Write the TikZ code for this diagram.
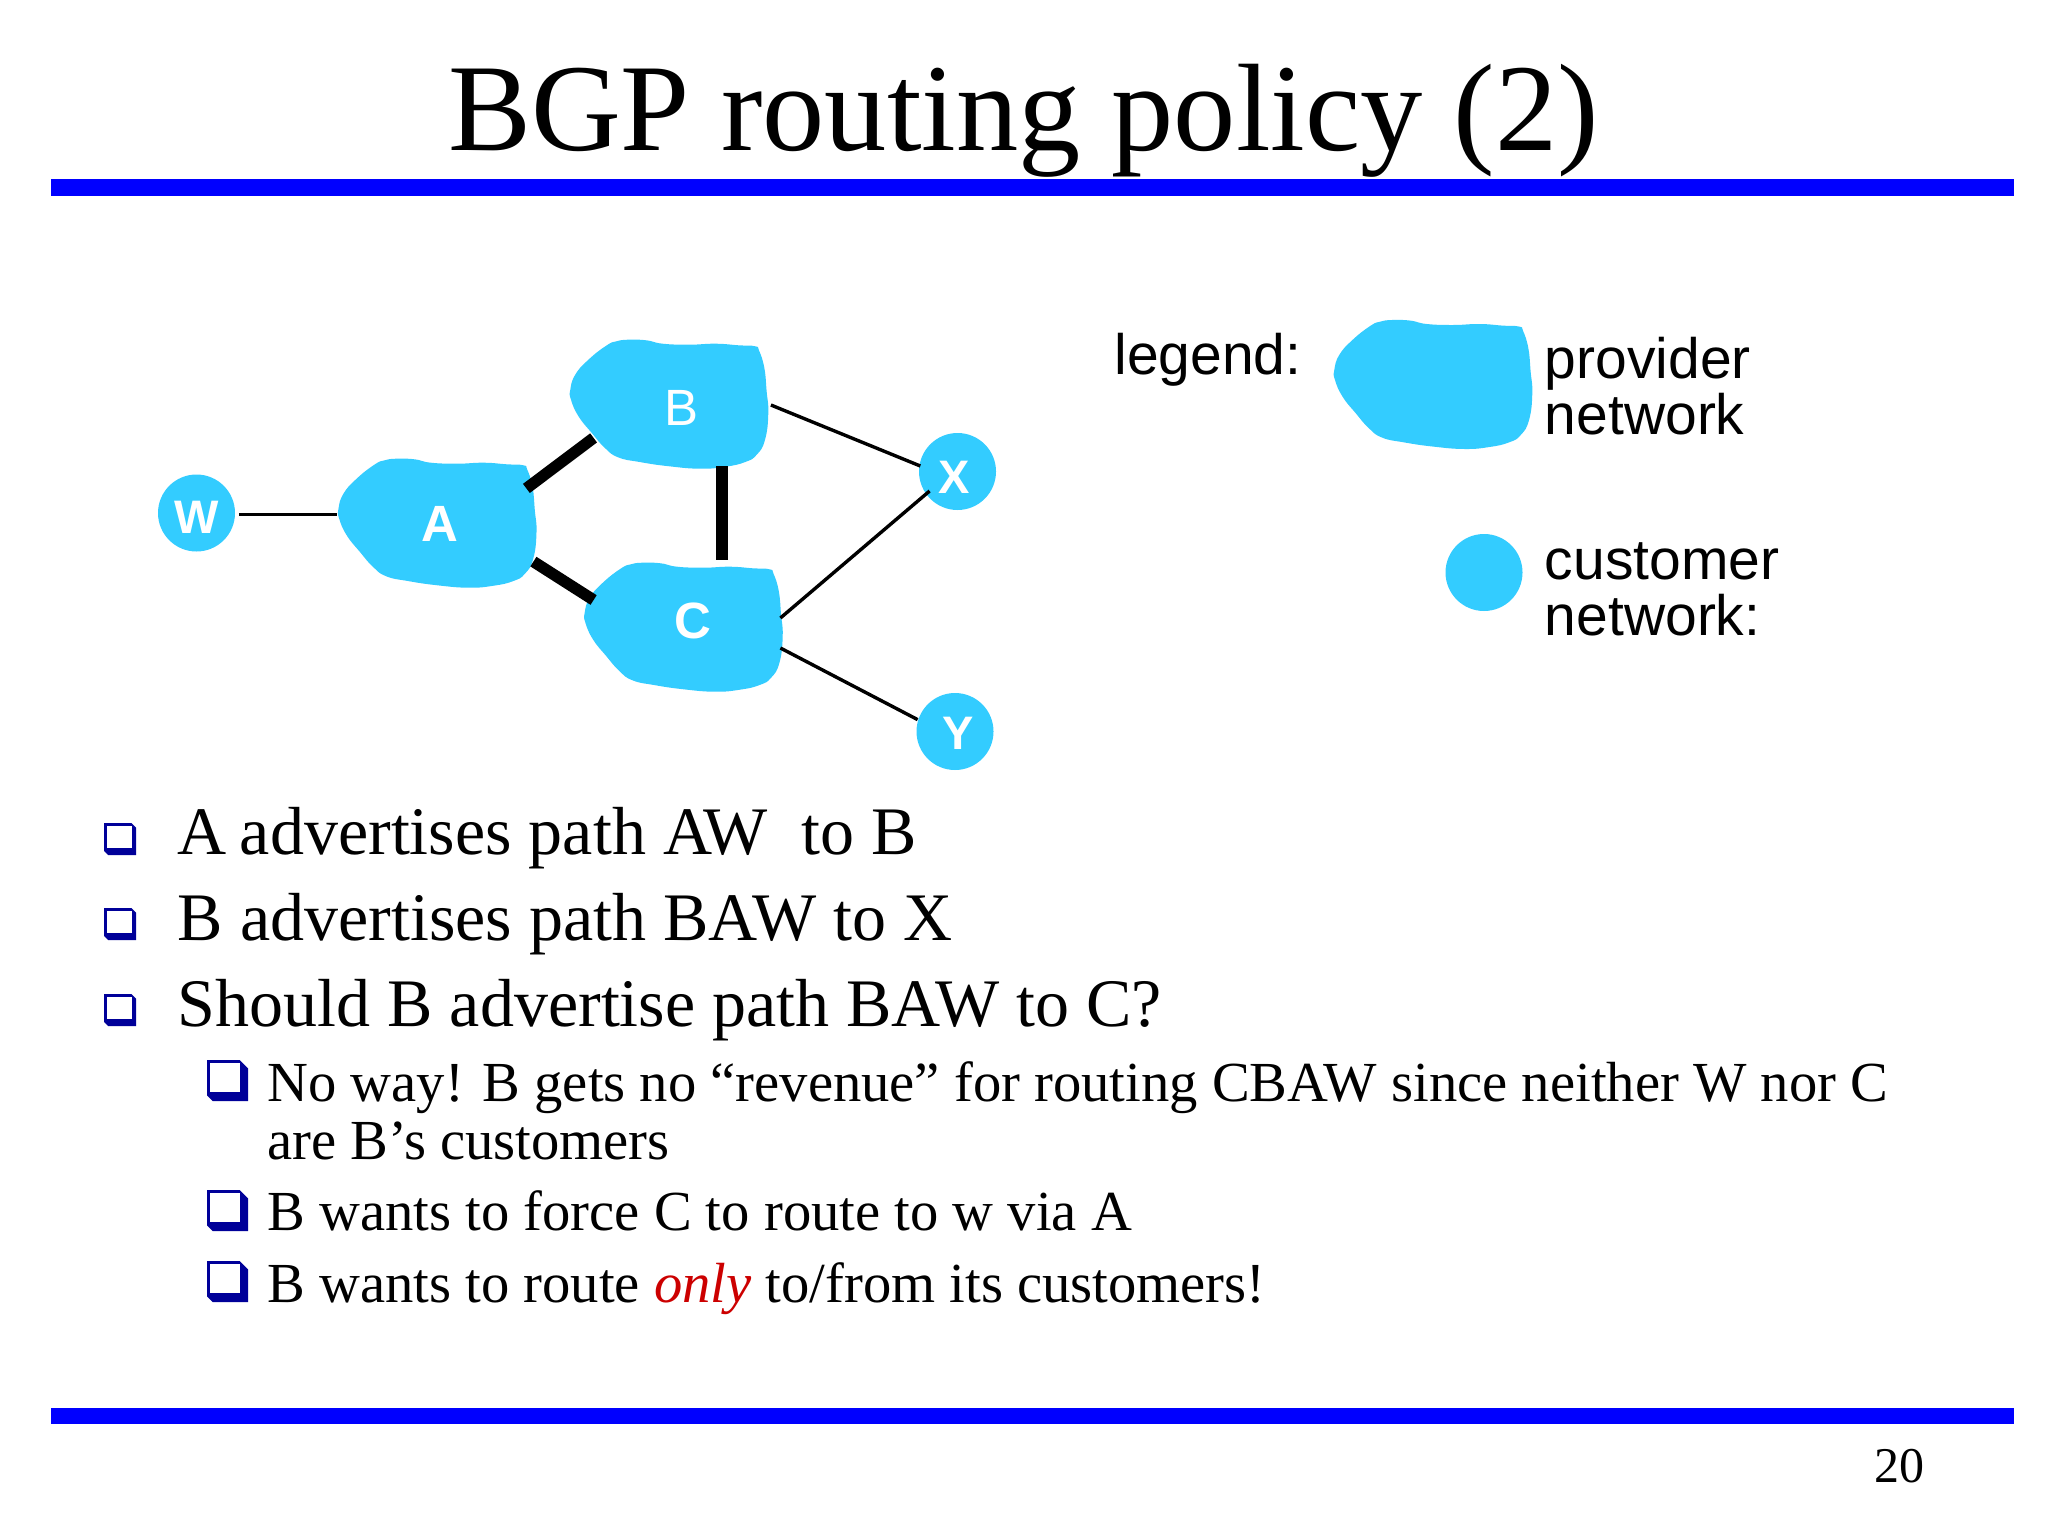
\documentclass[tikz,border=0pt]{standalone}
\usepackage{fontspec}
\setmainfont{Liberation Serif}
\newfontfamily\helv{Liberation Sans}
\usetikzlibrary{calc}
\definecolor{netblue}{RGB}{51,204,255}
\definecolor{barblue}{RGB}{0,0,255}
\definecolor{navy}{RGB}{0,0,153}
\definecolor{onlyred}{RGB}{204,0,0}
\tikzset{
  px/.style={x=0.5pt,y=-0.5pt},
  blob/.style={minimum width=100.5pt,minimum height=65pt,inner sep=0pt,text=white},
  cust/.style={circle,fill=netblue,minimum size=38.5pt,inner sep=0pt,text=white},
  lab/.style={font=\helv\fontsize{25.5}{25.5}\selectfont},
  labb/.style={font=\helv\bfseries\fontsize{25.5}{25.5}\selectfont},
  clab/.style={font=\helv\bfseries\fontsize{23.5}{23.5}\selectfont},
  thinlink/.style={line width=1.7pt,black},
  heavylink/.style={line width=5.7pt,black},
  legendtext/.style={anchor=base west,inner sep=0pt,font=\helv\fontsize{28.5}{28.5}\selectfont},
  title/.style={anchor=base,inner sep=0pt,font=\fontsize{62.2}{62.2}\selectfont},
  lone/.style={anchor=base west,inner sep=0pt,font=\fontsize{34}{34}\selectfont},
  ltwo/.style={anchor=base west,inner sep=0pt,font=\fontsize{28.3}{28.3}\selectfont},
  pageno/.style={anchor=base east,inner sep=0pt,font=\fontsize{25}{25}\selectfont},
  bar/.style={fill=barblue},
}
% blob outline, centred at the given point
\newcommand{\blobshape}[2]{%
  \fill[netblue,shift={(#1,#2)},xscale=0.99] plot[smooth cycle,tension=0.8] coordinates {
    (-41.7,-64.3) (-23.3,-63.7) (-6.7,-60.3) (20,-59.3) (46.7,-60.3) (70,-58.7)
    (86.7,-57.7) (90.7,-53.3) (96,-36) (98.3,-12.7) (100,9) (96.7,35.7)
    (88.3,50.7) (76.7,58) (56.7,62.7) (31.7,64.7) (0,62.3) (-30,58)
    (-51.7,53.3) (-65,44) (-78.3,29) (-91.7,12.3) (-99.3,-4.3) (-100,-14.3)
    (-95,-29.3) (-81.7,-44.3) (-63.3,-58.6) (-53.3,-62.7)};}
% shadowed square bullet: x, y (top left), size, right border, bottom border
\newcommand{\sqbul}[5]{%
  \fill[navy,shift={(#1,#2)}] (0,0) -- (#3-#4,0) -- (#3,#4) -- (#3,#3) -- (#5*0.6,#3) -- (0,#3-#5*0.6) -- cycle;
  \fill[white,shift={(#1,#2)}] (2.7,2.7) -- (#3-#4,2.7) -- (#3-#4,#3-#5) -- (2.7,#3-#5) -- cycle;}
\begin{document}
\begin{tikzpicture}[px]
\useasboundingbox (0,0) rectangle (2048,1536);
\fill[white] (0,0) rectangle (2048,1536);
% title and rules
\node[title] (title) at (1023.5,150) {BGP routing policy (2)};
\fill[bar] (51,179) rectangle (2014,196);
\fill[bar] (51,1408) rectangle (2014,1424);
\node[pageno] (page) at (1925,1482) {20};
% network
\node[cust] (W) at (196.5,513) {};
\node[cust] (X) at (957.5,471.5) {};
\node[cust] (Y) at (955,731.5) {};
\blobshape{437.5}{523}
\blobshape{669.3}{404}
\blobshape{683.7}{627}
\node[blob] (A) at (437.5,523) {};
\node[blob] (B) at (669.3,404) {};
\node[blob] (C) at (683.7,627) {};
\node[labb,text=white] (Atxt) at (440,524) {A};
\node[lab,text=white] (Btxt) at (681,408) {B};
\node[labb,text=white] (Ctxt) at (693,621) {C};
\node[clab,text=white] (Wtxt) at (197,517) {W};
\node[clab,text=white] (Xtxt) at (954,477) {X};
\node[clab,text=white] (Ytxt) at (958,733) {Y};
% links (ends offset from node anchors to touch the irregular outlines)
\draw[thinlink] ([shift={(4,1.5)}]W.east) -- ([shift={(0,-8.5)}]A.west);
\draw[heavylink] ([shift={(-12,-34.6)}]A.east) -- ([shift={(25.2,-31.5)}]B.south west);
\draw[heavylink] ([shift={(-5,38.6)}]A.east) -- ([shift={(10.8,-27)}]C.west);
\draw[heavylink] ([shift={(52.7,-3)}]B.south) -- ([shift={(38.3,-2)}]C.north);
\draw[thinlink] ([shift={(0.7,1)}]B.east) -- ([shift={(1.7,-5.5)}]X.west);
\draw[thinlink] ([shift={(-4.2,-9)}]C.east) -- ([shift={(11,19.5)}]X.west);
\draw[thinlink] ([shift={(-4.2,21)}]C.east) -- ([shift={(1.5,-11.9)}]Y.west);
% legend
\node[legendtext] (leg) at (1114,374) {legend:};
\blobshape{1433.3}{384.3}
\node[blob] (legblob) at (1433.3,384.3) {};
\node[legendtext] (prov) at (1544.5,378.5) {provider};
\node[legendtext] (net1) at (1544.5,434) {network};
\node[cust] (legcust) at (1484,572.5) {};
\node[legendtext] (custt) at (1544.5,579) {customer};
\node[legendtext] (net2) at (1544.5,635) {network:};
% bullets
\sqbul{104}{823}{32}{4.5}{7}
\sqbul{104}{908}{32}{4.5}{7}
\sqbul{104}{994}{32}{4.5}{7}
\node[lone] (b1) at (177.5,854.5) {A\kern-2pt\ advertises path A\kern-4.5pt W\ \ to B};
\node[lone] (b2) at (177.5,940) {B advertises path BAW to X};
\node[lone] (b3) at (177.5,1026) {Should B advertise path BAW to C?};
\sqbul{207}{1060}{41}{8.3}{9.3}
\sqbul{207}{1190}{41}{8.3}{9.3}
\sqbul{207}{1261}{41}{8.3}{9.3}
\node[ltwo] (c1) at (267,1101) {No way! B gets no “revenue” for routing CBAW since neither W nor C};
\node[ltwo] (c1b) at (267,1159) {are B’s customers};
\node[ltwo] (c2) at (267,1230) {B wants to force C to route to w via A};
\node[ltwo] (c3) at (267,1302.5) {B wants to route {\color{onlyred}\itshape only} to/from its customers!};
\end{tikzpicture}
\end{document}
